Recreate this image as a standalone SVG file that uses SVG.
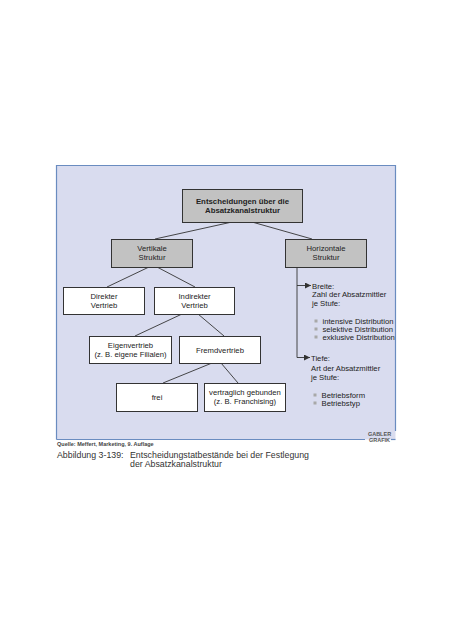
<svg xmlns="http://www.w3.org/2000/svg" width="452" height="640" viewBox="0 0 452 640">
<style>
text{font-family:"Liberation Sans",Arial,sans-serif;fill:#222}
.n{font-size:7.7px}
.b{font-size:7.8px;font-weight:bold}
.box{fill:#fff;stroke:#333;stroke-width:1}
.gbox{fill:#c2c2c2;stroke:#333;stroke-width:1}
.ln{stroke:#333;stroke-width:0.9;fill:none}
.bul{fill:#a8a8a8}
.cap{font-size:8.8px;fill:#333}
</style>
<defs>
<marker id="ar" viewBox="0 0 10 10" refX="10" refY="5" markerWidth="6" markerHeight="6" orient="auto" markerUnits="userSpaceOnUse">
<path d="M0,0 L10,5 L0,10 z" fill="#333"/>
</marker>
</defs>
<rect width="452" height="640" fill="#fff"/>
<g id="panel">
<rect x="56.5" y="165.5" width="339" height="274" fill="#d9dcef" stroke="none"/>
<path d="M56.5,439.5 V165.5 H395.5 V431" fill="none" stroke="#6a8cc0" stroke-width="1.2"/>
<path d="M56.5,439.5 H365" fill="none" stroke="#6a8cc0" stroke-width="1.2"/>
<path d="M391,439.5 H395.5" fill="none" stroke="#6a8cc0" stroke-width="1.2"/>
<text x="379.5" y="436" font-size="5.5" font-weight="bold" text-anchor="middle" style="fill:#555">GABLER</text>
<text x="379.5" y="441.5" font-size="5.5" font-weight="bold" text-anchor="middle" style="fill:#555">GRAFIK</text>
</g>
<g id="connectors">
<line class="ln" x1="232" y1="222" x2="155" y2="239"/>
<line class="ln" x1="252" y1="222" x2="312" y2="239"/>
<line class="ln" x1="149" y1="267" x2="107" y2="287"/>
<line class="ln" x1="157" y1="267" x2="195" y2="287"/>
<line class="ln" x1="182" y1="314" x2="135" y2="336"/>
<line class="ln" x1="198" y1="314" x2="224" y2="336"/>
<line class="ln" x1="212" y1="363" x2="163" y2="383"/>
<line class="ln" x1="221" y1="363" x2="238" y2="383"/>
<path class="ln" d="M297,267 V357.5 H310" marker-end="url(#ar)"/>
<path class="ln" d="M297,285.5 H311" marker-end="url(#ar)"/>
</g>
<g id="n-root">
<rect class="gbox" x="182.5" y="189.5" width="120" height="33"/>
<text class="b" x="242.5" y="203.5" text-anchor="middle">Entscheidungen über die</text>
<text class="b" x="242.5" y="212.5" text-anchor="middle">Absatzkanalstruktur</text>
</g>
<g id="n-vertikal">
<rect class="gbox" x="111.5" y="239.5" width="81" height="28"/>
<text class="n" x="152" y="251" text-anchor="middle">Vertikale</text>
<text class="n" x="152" y="260" text-anchor="middle">Struktur</text>
</g>
<g id="n-horizontal">
<rect class="gbox" x="285.5" y="239.5" width="81" height="28"/>
<text class="n" x="326" y="251" text-anchor="middle">Horizontale</text>
<text class="n" x="326" y="260" text-anchor="middle">Struktur</text>
</g>
<g id="n-direkt">
<rect class="box" x="63.5" y="287.5" width="81" height="27"/>
<text class="n" x="104" y="299" text-anchor="middle">Direkter</text>
<text class="n" x="104" y="308" text-anchor="middle">Vertrieb</text>
</g>
<g id="n-indirekt">
<rect class="box" x="154.5" y="287.5" width="80" height="27"/>
<text class="n" x="194.5" y="299" text-anchor="middle">Indirekter</text>
<text class="n" x="194.5" y="308" text-anchor="middle">Vertrieb</text>
</g>
<g id="n-eigen">
<rect class="box" x="89.5" y="336.5" width="82" height="27"/>
<text class="n" x="130.5" y="348" text-anchor="middle">Eigenvertrieb</text>
<text class="n" x="130.5" y="357" text-anchor="middle">(z. B. eigene Filialen)</text>
</g>
<g id="n-fremd">
<rect class="box" x="179.5" y="336.5" width="81" height="27"/>
<text class="n" x="220" y="353" text-anchor="middle">Fremdvertrieb</text>
</g>
<g id="n-frei">
<rect class="box" x="116.5" y="383.5" width="81" height="28"/>
<text class="n" x="157" y="400" text-anchor="middle">frei</text>
</g>
<g id="n-vertraglich">
<rect class="box" x="204.5" y="383.5" width="81" height="28"/>
<text class="n" x="245" y="395" text-anchor="middle">vertraglich gebunden</text>
<text class="n" x="245" y="404" text-anchor="middle">(z. B. Franchising)</text>
</g>
<g id="n-breite">
<text class="n" x="312" y="288.5">Breite:</text>
<text class="n" x="312" y="297">Zahl der Absatzmittler</text>
<text class="n" x="312" y="305.5">je Stufe:</text>
<rect class="bul" x="314.5" y="319.5" width="3" height="3"/>
<rect class="bul" x="314.5" y="327.5" width="3" height="3"/>
<rect class="bul" x="314.5" y="335.5" width="3" height="3"/>
<text class="n" x="322.5" y="324">intensive Distribution</text>
<text class="n" x="322.5" y="332">selektive Distribution</text>
<text class="n" x="322.5" y="340">exklusive Distribution</text>
</g>
<g id="n-tiefe">
<text class="n" x="311" y="361">Tiefe:</text>
<text class="n" x="311" y="370.5">Art der Absatzmittler</text>
<text class="n" x="311" y="379.5">je Stufe:</text>
<rect class="bul" x="313.5" y="393.5" width="3" height="3"/>
<rect class="bul" x="313.5" y="401.5" width="3" height="3"/>
<text class="n" x="321.5" y="398">Betriebsform</text>
<text class="n" x="321.5" y="406">Betriebstyp</text>
</g>
<g id="source">
<text x="57" y="446" font-size="5.5" font-weight="bold" style="fill:#444">Quelle: Meffert, Marketing, 9. Auflage</text>
</g>
<g id="caption">
<text class="cap" x="57" y="457.5">Abbildung 3-139:</text>
<text class="cap" x="130" y="457.5">Entscheidungstatbestände bei der Festlegung</text>
<text class="cap" x="130" y="467">der Absatzkanalstruktur</text>
</g>
</svg>
